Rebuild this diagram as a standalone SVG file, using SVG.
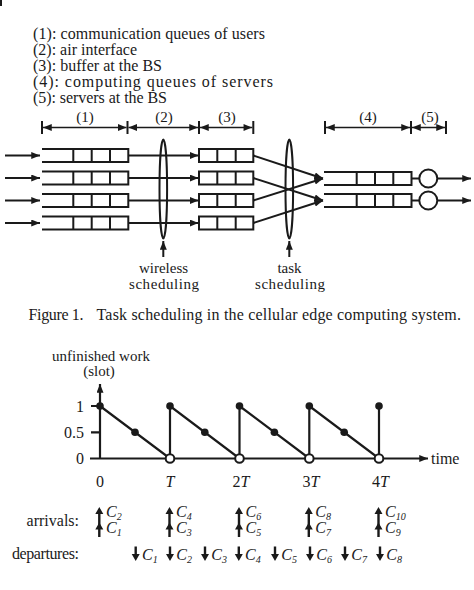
<svg xmlns="http://www.w3.org/2000/svg" width="474" height="590" viewBox="0 0 474 590">
<style>
text{font-family:"Liberation Serif","Times New Roman",serif;font-size:15px;fill:#1a1a1a}
.lg{font-size:16px}
.it{font-style:italic}
.sub{font-size:10px}
.ln{stroke:#1a1a1a;stroke-width:2;fill:none}
.ax{stroke:#1a1a1a;stroke-width:2.2;fill:none}
.q{stroke:#1a1a1a;stroke-width:2;fill:none}
.arr{stroke:#1a1a1a;stroke-width:2;fill:none;marker-end:url(#ah)}
.dim{stroke:#1a1a1a;stroke-width:1.6;fill:none;marker-end:url(#ah);marker-start:url(#ah)}
.dot{fill:#1a1a1a}
.odot{fill:#fff;stroke:#1a1a1a;stroke-width:2}
</style>
<defs>
<marker id="ah" viewBox="0 0 10 8" markerUnits="userSpaceOnUse" markerWidth="9" markerHeight="7" refX="10" refY="4" orient="auto-start-reverse">
<path d="M0,0 L10,4 L0,8 z" fill="#1a1a1a"/>
</marker>
</defs>
<rect width="474" height="590" fill="#fff"/>
<rect x="0" y="0" width="2" height="6" fill="#1a1a1a"/>

<g id="legend">
<text class="lg" x="33" y="38.5" textLength="232" lengthAdjust="spacing">(1): communication queues of users</text>
<text class="lg" x="33" y="54.5" textLength="104" lengthAdjust="spacing">(2): air interface</text>
<text class="lg" x="33" y="70.5" textLength="129" lengthAdjust="spacing">(3): buffer at the BS</text>
<text class="lg" x="33" y="86.5" textLength="240" lengthAdjust="spacing">(4): computing queues of servers</text>
<text class="lg" x="33" y="102.5" textLength="134" lengthAdjust="spacing">(5): servers at the BS</text>
</g>

<g id="dimensions">
<path class="ln" d="M42,121V134 M127.5,121V134 M199,121V134 M253.3,121V134 M325,121V134 M411,121V134 M446,121V134"/>
<line class="dim" x1="43" y1="127.5" x2="126.5" y2="127.5"/>
<line class="dim" x1="128.5" y1="127.5" x2="198" y2="127.5"/>
<line class="dim" x1="200" y1="127.5" x2="252.3" y2="127.5"/>
<line class="dim" x1="326" y1="127.5" x2="410" y2="127.5"/>
<line class="dim" x1="412" y1="127.5" x2="445" y2="127.5"/>
<text x="85" y="122" text-anchor="middle">(1)</text>
<text x="164" y="122" text-anchor="middle">(2)</text>
<text x="227" y="122" text-anchor="middle">(3)</text>
<text x="368" y="122" text-anchor="middle">(4)</text>
<text x="430" y="122" text-anchor="middle">(5)</text>
</g>

<g id="user-queues">
<path class="q" d="M42,149H128.3V162H42 M73.3,149V162 M91.7,149V162 M110,149V162"/>
<path class="q" d="M42,171.5H128.3V184.5H42 M73.3,171.5V184.5 M91.7,171.5V184.5 M110,171.5V184.5"/>
<path class="q" d="M42,194H128.3V207H42 M73.3,194V207 M91.7,194V207 M110,194V207"/>
<path class="q" d="M42,216.5H128.3V229.5H42 M73.3,216.5V229.5 M91.7,216.5V229.5 M110,216.5V229.5"/>
</g>

<g id="bs-buffer">
<path class="q" d="M199,149H253.3V162H199Z M217.3,149V162 M235.7,149V162"/>
<path class="q" d="M199,171.5H253.3V184.5H199Z M217.3,171.5V184.5 M235.7,171.5V184.5"/>
<path class="q" d="M199,194H253.3V207H199Z M217.3,194V207 M235.7,194V207"/>
<path class="q" d="M199,216.5H253.3V229.5H199Z M217.3,216.5V229.5 M235.7,216.5V229.5"/>
</g>

<g id="server-queues">
<path class="q" d="M324,172H411.5V185H324 M356.7,172V185 M375,172V185 M393.3,172V185"/>
<path class="q" d="M324,194H411.5V207H324 M356.7,194V207 M375,194V207 M393.3,194V207"/>
</g>

<g id="servers">
<line class="q" x1="411.5" y1="178.5" x2="419.3" y2="178.5"/>
<line class="q" x1="411.5" y1="200.5" x2="419.3" y2="200.5"/>
<circle class="odot" cx="428.3" cy="178.5" r="9"/>
<circle class="odot" cx="428.3" cy="200.5" r="9"/>
</g>

<g id="wireless-scheduling">
<ellipse class="q" cx="163.3" cy="189" rx="3.8" ry="49.5"/>
<text x="163.5" y="273" text-anchor="middle">wireless</text>
<text x="164" y="288.5" text-anchor="middle" textLength="70" lengthAdjust="spacing">scheduling</text>
</g>

<g id="task-scheduling">
<ellipse class="q" cx="289.3" cy="189" rx="3.8" ry="49.5"/>
<text x="289.5" y="273" text-anchor="middle">task</text>
<text x="290" y="288.5" text-anchor="middle" textLength="70" lengthAdjust="spacing">scheduling</text>
</g>

<g id="connectors">
<line class="arr" x1="5" y1="155.5" x2="40" y2="155.5"/>
<line class="arr" x1="5" y1="178" x2="40" y2="178"/>
<line class="arr" x1="5" y1="200.5" x2="40" y2="200.5"/>
<line class="arr" x1="5" y1="223" x2="40" y2="223"/>
<line class="arr" x1="128.3" y1="155.5" x2="198.5" y2="155.5"/>
<line class="arr" x1="128.3" y1="178" x2="198.5" y2="178"/>
<line class="arr" x1="128.3" y1="200.5" x2="198.5" y2="200.5"/>
<line class="arr" x1="128.3" y1="223" x2="198.5" y2="223"/>
<line class="arr" x1="253.3" y1="155.5" x2="323" y2="178.5"/>
<line class="arr" x1="253.3" y1="178" x2="323" y2="200.5"/>
<line class="arr" x1="253.3" y1="200.5" x2="323" y2="178.5"/>
<line class="arr" x1="253.3" y1="223" x2="323" y2="200.5"/>
<line class="arr" x1="437.3" y1="178.5" x2="471" y2="178.5"/>
<line class="arr" x1="437.3" y1="200.5" x2="471" y2="200.5"/>
<line class="arr" x1="163.3" y1="257" x2="163.3" y2="241"/>
<line class="arr" x1="289.3" y1="257" x2="289.3" y2="241"/>
</g>

<g id="caption">
<text class="lg" x="28.5" y="320" textLength="55" lengthAdjust="spacing">Figure 1.</text>
<text class="lg" x="96.5" y="320" textLength="364.5" lengthAdjust="spacing">Task scheduling in the cellular edge computing system.</text>
</g>

<g id="chart">
<text x="101" y="361" text-anchor="middle">unfinished work</text>
<text x="99" y="376" text-anchor="middle">(slot)</text>
<line class="ax" x1="100" y1="459" x2="100" y2="384" marker-end="url(#ah)"/>
<line class="ax" x1="90" y1="458.5" x2="428" y2="458.5" marker-end="url(#ah)"/>
<path class="ax" d="M91,406H100 M91,432.3H100"/>
<text class="lg" x="84" y="411.5" text-anchor="end">1</text>
<text class="lg" x="84" y="438" text-anchor="end">0.5</text>
<text class="lg" x="84" y="464" text-anchor="end">0</text>
<text class="lg" x="431" y="464">time</text>
<path class="ax" d="M100,406L170,458.5V406L239.5,458.5V406L309.3,458.5V406L379,458.5V406"/>
<g class="dot">
<circle cx="100" cy="406" r="3.8"/><circle cx="135" cy="432.3" r="3.8"/>
<circle cx="170" cy="406" r="3.8"/><circle cx="204.8" cy="432.3" r="3.8"/>
<circle cx="239.5" cy="406" r="3.8"/><circle cx="274.4" cy="432.3" r="3.8"/>
<circle cx="309.3" cy="406" r="3.8"/><circle cx="344.2" cy="432.3" r="3.8"/>
<circle cx="379" cy="406" r="3.8"/>
</g>
<circle class="odot" cx="170" cy="458.5" r="4.3"/>
<circle class="odot" cx="239.5" cy="458.5" r="4.3"/>
<circle class="odot" cx="309.3" cy="458.5" r="4.3"/>
<circle class="odot" cx="379" cy="458.5" r="4.3"/>
<text class="lg" x="100" y="486.5" text-anchor="middle">0</text>
<text class="lg it" x="170" y="486.5" text-anchor="middle">T</text>
<text class="lg" x="241" y="486.5" text-anchor="middle">2<tspan class="it">T</tspan></text>
<text class="lg" x="311" y="486.5" text-anchor="middle">3<tspan class="it">T</tspan></text>
<text class="lg" x="380.5" y="486.5" text-anchor="middle">4<tspan class="it">T</tspan></text>
</g>

<g id="arrivals">
<text class="lg" x="79" y="526" text-anchor="end">arrivals:</text>
<path class="ax" d="M99.3,512V537 M169.5,512V537 M239,512V537 M308.8,512V537 M378.5,512V537" style="stroke-width:2.4"/>
<g fill="#1a1a1a">
<path d="M99.3,507l-4,7h8z M99.3,522.5l-4,7h8z"/>
<path d="M169.5,507l-4,7h8z M169.5,522.5l-4,7h8z"/>
<path d="M239,507l-4,7h8z M239,522.5l-4,7h8z"/>
<path d="M308.8,507l-4,7h8z M308.8,522.5l-4,7h8z"/>
<path d="M378.5,507l-4,7h8z M378.5,522.5l-4,7h8z"/>
</g>
<text class="lg it" x="106" y="517">C<tspan class="sub" dy="3">2</tspan></text>
<text class="lg it" x="106" y="533">C<tspan class="sub" dy="3">1</tspan></text>
<text class="lg it" x="176" y="517">C<tspan class="sub" dy="3">4</tspan></text>
<text class="lg it" x="176" y="533">C<tspan class="sub" dy="3">3</tspan></text>
<text class="lg it" x="245.5" y="517">C<tspan class="sub" dy="3">6</tspan></text>
<text class="lg it" x="245.5" y="533">C<tspan class="sub" dy="3">5</tspan></text>
<text class="lg it" x="315.3" y="517">C<tspan class="sub" dy="3">8</tspan></text>
<text class="lg it" x="315.3" y="533">C<tspan class="sub" dy="3">7</tspan></text>
<text class="lg it" x="385" y="517">C<tspan class="sub" dy="3">10</tspan></text>
<text class="lg it" x="385" y="533">C<tspan class="sub" dy="3">9</tspan></text>
</g>

<g id="departures">
<text x="79" y="559" text-anchor="end" textLength="67" lengthAdjust="spacing" class="lg">departures:</text>
<path class="ax" d="M135.7,546.5V556 M170,546.5V556 M205,546.5V556 M238.8,546.5V556 M275,546.5V556 M310,546.5V556 M345,546.5V556 M380,546.5V556" style="stroke-width:2.4"/>
<g fill="#1a1a1a">
<path d="M135.7,561l-4,-7h8z M170,561l-4,-7h8z M205,561l-4,-7h8z M238.8,561l-4,-7h8z M275,561l-4,-7h8z M310,561l-4,-7h8z M345,561l-4,-7h8z M380,561l-4,-7h8z"/>
</g>
<text class="lg it" x="142" y="560">C<tspan class="sub" dy="3">1</tspan></text>
<text class="lg it" x="176.3" y="560">C<tspan class="sub" dy="3">2</tspan></text>
<text class="lg it" x="211.3" y="560">C<tspan class="sub" dy="3">3</tspan></text>
<text class="lg it" x="245.1" y="560">C<tspan class="sub" dy="3">4</tspan></text>
<text class="lg it" x="281.3" y="560">C<tspan class="sub" dy="3">5</tspan></text>
<text class="lg it" x="316.3" y="560">C<tspan class="sub" dy="3">6</tspan></text>
<text class="lg it" x="351.3" y="560">C<tspan class="sub" dy="3">7</tspan></text>
<text class="lg it" x="386.3" y="560">C<tspan class="sub" dy="3">8</tspan></text>
</g>
</svg>
